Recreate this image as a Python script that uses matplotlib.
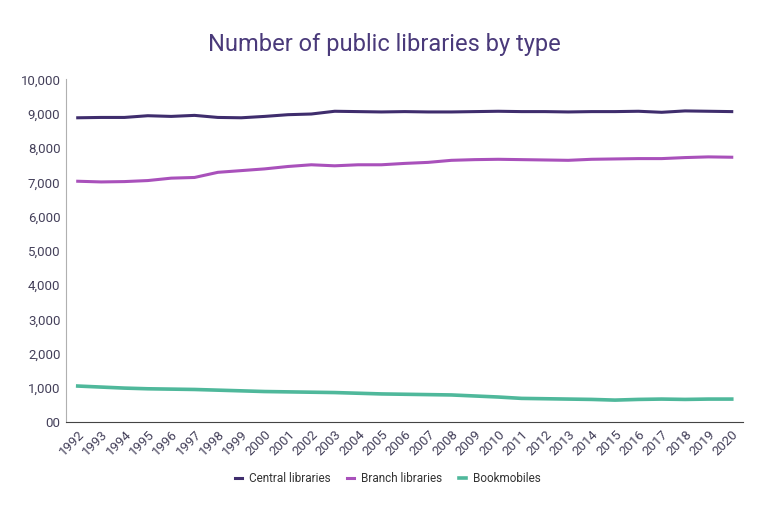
import matplotlib.pyplot as plt
from matplotlib.ticker import FuncFormatter

plt.rcParams['font.family'] = ['Roboto', 'DejaVu Sans']

years = [str(y) for y in range(1992, 2021)]
central = [8880, 8890, 8890, 8940, 8920, 8950, 8890, 8880, 8920, 8970,
           8990, 9070, 9060, 9050, 9060, 9050, 9050, 9060, 9070, 9060,
           9060, 9050, 9060, 9060, 9070, 9040, 9080, 9070, 9060]
branch = [7030, 7010, 7020, 7050, 7120, 7140, 7290, 7340, 7390, 7460,
          7510, 7480, 7510, 7510, 7550, 7580, 7640, 7660, 7670, 7660,
          7650, 7640, 7670, 7680, 7690, 7690, 7720, 7740, 7730]
bookmobiles = [1060, 1030, 1000, 980, 970, 960, 940, 920, 900, 890,
               880, 870, 850, 830, 820, 810, 800, 770, 740, 700,
               690, 680, 670, 650, 670, 680, 670, 680, 680]

fig, ax = plt.subplots(figsize=(7.68, 5.12), dpi=100)
fig.subplots_adjust(left=0.086, right=0.968, top=0.845, bottom=0.175)

x = range(len(years))
ax.plot(x, central, color='#3f2d6d', lw=2.2, label='Central libraries')
ax.plot(x, branch, color='#a951bb', lw=2.2, label='Branch libraries')
ax.plot(x, bookmobiles, color='#4fb89b', lw=2.6, label='Bookmobiles')

ax.set_xlim(-0.5, len(years) - 0.5)
ax.set_ylim(0, 10000)
ax.set_yticks(range(0, 10001, 1000))
ax.yaxis.set_major_formatter(FuncFormatter(lambda v, p: '00' if v == 0 else f'{int(v):,}'))
ax.set_xticks(list(x))
ax.set_xticklabels(years, rotation=45, ha='right', rotation_mode='anchor')
ax.tick_params(axis='both', length=0, labelsize=9.5, colors='#44405a', pad=4)

for s in ['top', 'right']:
    ax.spines[s].set_visible(False)
ax.spines['left'].set_color('#b0b0b0')
ax.spines['bottom'].set_color('#444444')

fig.suptitle('Number of public libraries by type', fontsize=17, color='#4a3a7a', y=0.935)
ax.legend(loc='upper center', bbox_to_anchor=(0.475, -0.115), ncol=3, frameon=False,
          fontsize=8.5, handlelength=0.6, columnspacing=1.4, handletextpad=0.6,
          labelcolor='#333333')

fig.savefig('out.png')
